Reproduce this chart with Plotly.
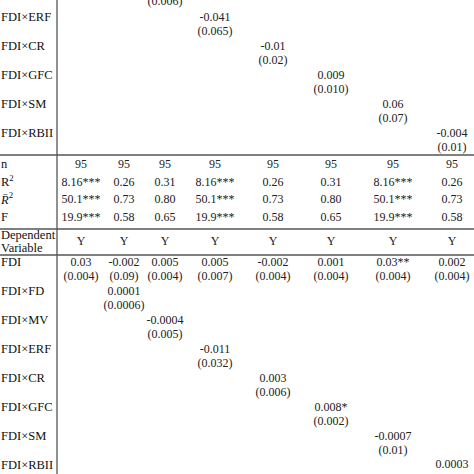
import plotly.graph_objects as go

# ---- data ----
col_x = [81, 124, 165, 215, 273, 331, 393, 452]
top_labels = ["FDI×ERF", "FDI×CR", "FDI×GFC", "FDI×SM", "FDI×RBII"]
top_coef = ["-0.041", "-0.01", "0.009", "0.06", "-0.004"]
top_se = ["(0.065)", "(0.02)", "(0.010)", "(0.07)", "(0.01)"]
top_cols = [3, 4, 5, 6, 7]
stat_labels = ["n", "R<sup>2</sup>", "<i>R̄</i><sup>2</sup>", "F"]
stat_vals = [
    ["95"] * 8,
    ["8.16***", "0.26", "0.31", "8.16***", "0.26", "0.31", "8.16***", "0.26"],
    ["50.1***", "0.73", "0.80", "50.1***", "0.73", "0.80", "50.1***", "0.73"],
    ["19.9***", "0.58", "0.65", "19.9***", "0.58", "0.65", "19.9***", "0.58"],
]
dep_vals = ["Y"] * 8
fdi_coef = ["0.03", "-0.002", "0.005", "0.005", "-0.002", "0.001", "0.03**", "0.002"]
fdi_se = ["(0.004)", "(0.09)", "(0.004)", "(0.007)", "(0.004)", "(0.004)", "(0.004)", "(0.004)"]
bot_labels = ["FDI×FD", "FDI×MV", "FDI×ERF", "FDI×CR", "FDI×GFC", "FDI×SM", "FDI×RBII"]
bot_coef = ["0.0001", "-0.0004", "-0.011", "0.003", "0.008*", "-0.0007", "0.0003"]
bot_se = ["(0.0006)", "(0.005)", "(0.032)", "(0.006)", "(0.002)", "(0.01)", ""]
bot_cols = [1, 2, 3, 4, 5, 6, 7]

FONT = dict(family="Liberation Serif", size=12, color="#222")
xs, ys, ts = [], [], []
lx, ly, lt = [], [], []

def add(x, y, t):
    xs.append(x); ys.append(y); ts.append(t)

def lab(y, t):
    lx.append(1); ly.append(y); lt.append(t)

add(col_x[2], 2, "(0.006)")
y0, step = 18, 29
for i, (l, c, s, k) in enumerate(zip(top_labels, top_coef, top_se, top_cols)):
    y = y0 + i * step
    lab(y, l); add(col_x[k], y, c); add(col_x[k], y + 14, s)
for i, (l, row) in enumerate(zip(stat_labels, stat_vals)):
    y = 165 + i * 17.7
    lab(y, l)
    for k, v in enumerate(row):
        add(col_x[k], y, v)
lab(236, "Dependent"); lab(249, "Variable")
for k, v in enumerate(dep_vals):
    add(col_x[k], 242, v)
lab(263, "FDI")
for k, (c, s) in enumerate(zip(fdi_coef, fdi_se)):
    add(col_x[k], 263, c); add(col_x[k], 277, s)
for i, (l, c, s, k) in enumerate(zip(bot_labels, bot_coef, bot_se, bot_cols)):
    y = 292 + i * 28.9
    lab(y, l); add(col_x[k], y, c)
    if s:
        add(col_x[k], y + 14, s)

fig = go.Figure()
fig.add_trace(go.Scatter(x=xs, y=ys, text=ts, mode="text", textposition="middle center",
                         textfont=FONT, hoverinfo="skip", cliponaxis=False))
fig.add_trace(go.Scatter(x=lx, y=ly, text=lt, mode="text", textposition="middle right",
                         textfont=dict(family="Liberation Serif", size=12.5, color="#111"),
                         hoverinfo="skip", cliponaxis=False))
line = dict(color="#555", width=1.3)
fig.add_shape(type="line", x0=57, x1=57, y0=0, y1=474, line=line)
for yy in [155, 229, 255]:
    fig.add_shape(type="line", x0=0, x1=474, y0=yy, y1=yy, line=line)
fig.update_layout(width=474, height=474, margin=dict(l=0, r=0, t=0, b=0),
                  paper_bgcolor="white", plot_bgcolor="white", showlegend=False,
                  xaxis=dict(range=[0, 474], visible=False, fixedrange=True),
                  yaxis=dict(range=[474, 0], visible=False, fixedrange=True))
fig.write_html("out.html", config={"displayModeBar": False},
               post_script="document.body.style.margin='0';document.body.style.overflow='hidden';")
